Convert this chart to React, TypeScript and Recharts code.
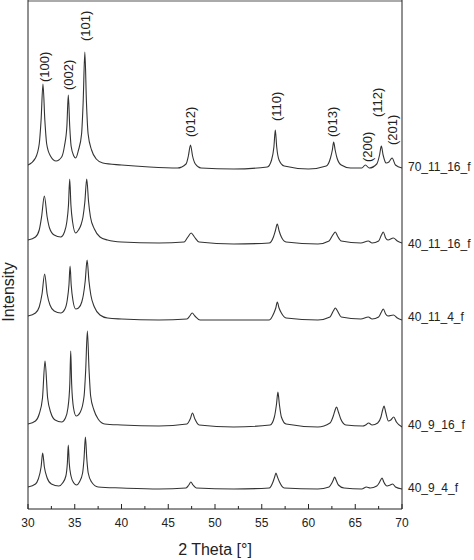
import React from 'react';
import { LineChart, Line, XAxis, YAxis, ReferenceLine, ReferenceDot } from 'recharts';

// 2 Theta [deg], stacked intensity (arbitrary units, offsets)
const trace70_11_16: [number, number][] = [
  [30.0, 345], [30.8, 352], [31.2, 366], [31.4, 390], [31.6, 426], [31.8, 390], [32.0, 366], [32.4, 354], [33.0, 349],
  [33.6, 353], [33.9, 364], [34.16, 384], [34.31, 415], [34.46, 384], [34.61, 364], [34.9, 354], [35.1, 352],
  [35.4, 360], [35.73, 376], [35.9, 408], [36.08, 458], [36.25, 408], [36.43, 376], [36.8, 360], [37.3, 351], [38.0, 347],
  [40, 345], [43, 343], [46, 342], [46.9, 346], [47.15, 354], [47.38, 365], [47.6, 354], [47.9, 346], [48.5, 342],
  [52, 341], [55.6, 343], [56.05, 350], [56.3, 363], [56.45, 380], [56.6, 363], [56.85, 350], [57.4, 344],
  [60, 341], [61.9, 344], [62.35, 352], [62.55, 360], [62.69, 368], [62.85, 360], [63.05, 352], [63.5, 345],
  [64.5, 342], [65.7, 342], [66.08, 345], [66.5, 342], [67.3, 346], [67.6, 355], [67.79, 364], [67.98, 355],
  [68.3, 347], [68.6, 348], [68.94, 352], [69.3, 345], [70, 342],
];

const trace40_11_16: [number, number][] = [
  [30.0, 270], [30.8, 273], [31.2, 280], [31.45, 293], [31.75, 314], [32.05, 293], [32.3, 282], [32.8, 275], [33.5, 273],
  [33.9, 278], [34.15, 288], [34.33, 305], [34.46, 331], [34.59, 305], [34.77, 288], [35.1, 277],
  [35.4, 280], [35.7, 286], [35.88, 293], [36.08, 308], [36.28, 331], [36.48, 308], [36.68, 293], [37.1, 281], [37.7, 273], [38.5, 270],
  [40, 268], [44, 267], [46.7, 268], [47.1, 273], [47.45, 277], [47.8, 273], [48.3, 268],
  [52, 266], [55.8, 267], [56.25, 273], [56.45, 279], [56.66, 286], [56.86, 279], [57.1, 273], [57.6, 268],
  [61, 266], [62.2, 269], [62.6, 275], [62.87, 278], [63.1, 274], [63.5, 269],
  [65.6, 267], [66.4, 269], [66.8, 267], [67.5, 269], [67.8, 275], [68.0, 278], [68.25, 272], [68.5, 270],
  [69.08, 272], [69.5, 269], [70, 267],
];

const trace40_11_4: [number, number][] = [
  [30.0, 194], [30.8, 197], [31.2, 203], [31.5, 216], [31.78, 236], [32.05, 216], [32.35, 205], [32.8, 199], [33.5, 197],
  [33.95, 201], [34.2, 210], [34.38, 225], [34.5, 244], [34.62, 225], [34.8, 210], [35.1, 201],
  [35.4, 202], [35.75, 208], [35.92, 215], [36.12, 229], [36.32, 250], [36.52, 229], [36.72, 215], [37.1, 203], [37.7, 195], [38.5, 192],
  [40, 191], [44, 190], [47.0, 191], [47.3, 194], [47.56, 197], [47.85, 194], [48.4, 190],
  [52, 190], [55.8, 190], [56.3, 197], [56.5, 202], [56.66, 208], [56.85, 202], [57.1, 197], [57.6, 192],
  [61, 190], [62.3, 193], [62.65, 199], [62.87, 202], [63.1, 199], [63.5, 193],
  [65.6, 191], [66.4, 193], [66.8, 191], [67.5, 193], [67.8, 198], [68.0, 201], [68.25, 196], [68.5, 194],
  [69.08, 195], [69.5, 192], [70, 190],
];

const trace40_9_16: [number, number][] = [
  [30.0, 86], [30.8, 89], [31.2, 96], [31.55, 112], [31.82, 149], [32.1, 112], [32.45, 97], [32.9, 90], [33.6, 88],
  [34.0, 92], [34.27, 102], [34.47, 126], [34.57, 159], [34.67, 126], [34.87, 102], [35.15, 94],
  [35.6, 98], [36.0, 114], [36.17, 140], [36.35, 179], [36.53, 140], [36.7, 114], [37.05, 100], [37.5, 91], [38.2, 86],
  [40, 85], [44, 84], [47.0, 86], [47.35, 91], [47.59, 97], [47.85, 91], [48.3, 85],
  [52, 83], [55.9, 85], [56.35, 93], [56.58, 106], [56.73, 118], [56.88, 106], [57.1, 93], [57.6, 86],
  [61, 83], [62.3, 87], [62.65, 94], [62.85, 100], [63.0, 103], [63.2, 98], [63.45, 91], [64, 85],
  [65.8, 84], [66.1, 85], [66.43, 87], [66.8, 85], [67.4, 87], [67.75, 93], [67.93, 100], [68.08, 104], [68.25, 98],
  [68.55, 89], [68.8, 90], [69.11, 93], [69.4, 88], [70, 83],
];

const trace40_9_4: [number, number][] = [
  [30.0, 23], [30.8, 26], [31.1, 31], [31.4, 43], [31.57, 57], [31.75, 43], [32.05, 32], [32.5, 26], [33.3, 24],
  [33.7, 27], [34.05, 34], [34.21, 47], [34.31, 65], [34.41, 47], [34.6, 34], [34.9, 27], [35.2, 25],
  [35.5, 28], [35.84, 37], [35.99, 51], [36.14, 73], [36.29, 51], [36.44, 37], [36.8, 28], [37.5, 23],
  [40, 22], [44, 21], [46.9, 22], [47.2, 25], [47.42, 28], [47.65, 25], [48.0, 22],
  [52, 21], [55.8, 22], [56.2, 28], [56.38, 33], [56.52, 37], [56.68, 33], [56.9, 28], [57.4, 22],
  [61, 21], [62.2, 23], [62.5, 27], [62.65, 30], [62.79, 33], [62.95, 30], [63.2, 25], [63.8, 22],
  [65.7, 21], [66.19, 23], [66.6, 22], [67.3, 24], [67.55, 27], [67.72, 30], [67.87, 32], [68.05, 28], [68.4, 24],
  [68.75, 25], [69.0, 26], [69.3, 23], [70, 21],
];

const seriesNames = ['70_11_16_f', '40_11_16_f', '40_11_4_f', '40_9_16_f', '40_9_4_f'];
const seriesLabelAt = [343, 266, 193, 85, 22];

const hklLabels = ['(100)', '(002)', '(101)', '(012)', '(110)', '(013)', '(200)', '(112)', '(201)'];
const hklTheta = [31.78, 34.36, 36.1, 47.38, 56.62, 62.58, 66.26, 67.33, 68.94];
const hklBottom = [428, 420, 469, 373, 389, 373, 348, 393, 365];

const xTicks = [30, 32.5, 35, 37.5, 40, 42.5, 45, 47.5, 50, 52.5, 55, 57.5, 60, 62.5, 65, 67.5, 70];

const traces = [trace70_11_16, trace40_11_16, trace40_11_4, trace40_9_16, trace40_9_4].map((tr) =>
  tr.map(([t, v]) => ({ t, v }))
);

const FONT = 'Arial, "Liberation Sans", sans-serif';
const INK = '#222';

const XTick = (props: any) => {
  const { x, y, payload } = props;
  const major = payload.value % 5 === 0;
  return (
    <g>
      <line x1={x} x2={x} y1={y} y2={y - (major ? 5 : 3)} stroke={INK} />
      {major && (
        <text x={x} y={y + 9} dy="0.71em" textAnchor="middle" fontSize={12} fill={INK} fontFamily={FONT}>
          {payload.value}
        </text>
      )}
    </g>
  );
};

const HklLabel = (text: string) => (props: any) => {
  const { cx, cy } = props;
  return (
    <text
      x={cx}
      y={cy}
      transform={`rotate(-90, ${cx}, ${cy})`}
      textAnchor="start"
      dominantBaseline="central"
      fontSize={13}
      fill={INK}
      fontFamily={FONT}
    >
      {text}
    </text>
  );
};

const SeriesLabel = (text: string) => (props: any) => {
  const { cx, cy } = props;
  return (
    <text x={cx + 6} y={cy} dominantBaseline="central" fontSize={12} fill={INK} fontFamily={FONT}>
      {text}
    </text>
  );
};

export default function App() {
  return (
    <div style={{ position: 'absolute', left: 0, top: 0, background: '#fff' }}>
      <LineChart width={474} height={560} margin={{ top: 0, right: 0, left: 0, bottom: 0 }}>
        <XAxis
          dataKey="t"
          type="number"
          domain={[30, 70]}
          ticks={xTicks}
          interval={0}
          allowDataOverflow
          height={51}
          stroke={INK}
          tickLine={false}
          tickSize={0}
          tickMargin={0}
          tick={<XTick />}
          label={{
            content: (p: any) => (
              <text
                x={p.viewBox.x + p.viewBox.width / 2}
                y={p.viewBox.y + 46}
                textAnchor="middle"
                fontSize={16}
                fill={INK}
                fontFamily={FONT}
              >
                2 Theta [°]
              </text>
            ),
          }}
        />
        <YAxis
          yAxisId="left"
          type="number"
          domain={[1, 510]}
          width={28}
          tick={false}
          tickLine={false}
          stroke={INK}
          label={{
            content: () => (
              <text
                x={14}
                y={292}
                transform="rotate(-90, 14, 292)"
                textAnchor="middle"
                fontSize={16}
                fill={INK}
                fontFamily={FONT}
              >
                Intensity
              </text>
            ),
          }}
        />
        <YAxis
          yAxisId="right"
          orientation="right"
          type="number"
          domain={[1, 510]}
          width={72}
          tick={false}
          tickLine={false}
          stroke={INK}
        />
        <ReferenceLine yAxisId="left" y={509} stroke="#aaa" strokeWidth={2} />
        {traces.map((d, i) => (
          <Line
            key={seriesNames[i]}
            yAxisId="left"
            data={d}
            dataKey="v"
            type="monotone"
            stroke="#333"
            strokeWidth={1.1}
            dot={false}
            isAnimationActive={false}
          />
        ))}
        {hklLabels.map((h, i) => (
          <ReferenceDot
            key={h}
            yAxisId="left"
            x={hklTheta[i]}
            y={hklBottom[i]}
            r={0}
            ifOverflow="visible"
            shape={HklLabel(h)}
          />
        ))}
        {seriesNames.map((n, i) => (
          <ReferenceDot
            key={n}
            yAxisId="left"
            x={70}
            y={seriesLabelAt[i]}
            r={0}
            ifOverflow="visible"
            shape={SeriesLabel(n)}
          />
        ))}
      </LineChart>
    </div>
  );
}
